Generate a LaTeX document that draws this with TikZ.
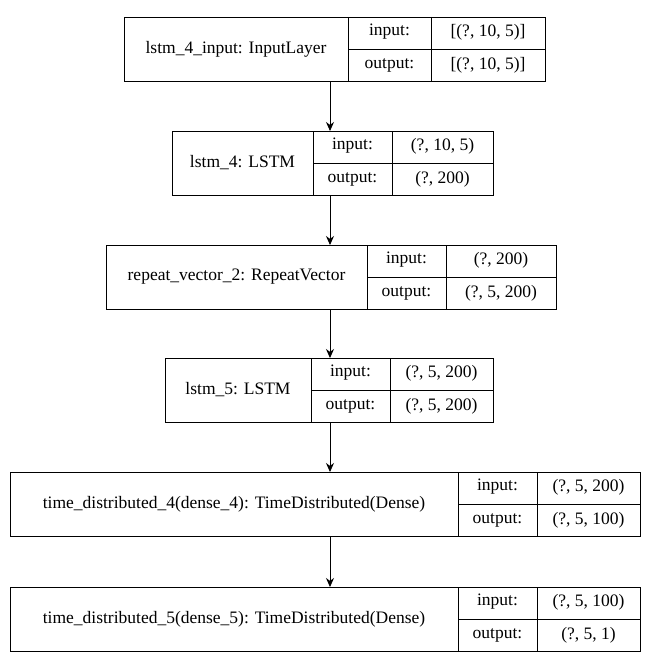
\documentclass[tikz,border=0pt]{standalone}
\usepackage{fontspec}
\setmainfont{Liberation Serif}
\usetikzlibrary{arrows.meta}
\tikzset{
  cell/.style={inner sep=0pt, font=\fontsize{17.5}{20}\selectfont},
  flow/.style={thick,-{Stealth[length=9pt,width=8pt]}}
}
\begin{document}
\begin{tikzpicture}[x=1pt,y=-1pt]
  \useasboundingbox (0,0) rectangle (652,661);
  % \lyr{name}{top}{x0}{x1}{x2}{x3}{title}{in}{out}
  \newcommand{\lyr}[9]{
    \node[draw, thick, inner sep=0pt, minimum width={(#6-#3)*1pt}, minimum height=64pt,
          anchor=north west] (#1) at (#3,#2) {};
    \draw[thick] (#4,#2) -- (#4,#2+64);
    \draw[thick] (#5,#2) -- (#5,#2+64);
    \draw[thick] (#4,#2+32) -- (#6,#2+32);
    \node[cell] (#1t) at ({(#3+#4)/2},#2+32) {#7};
    \node[cell] (#1i) at ({(#4+#5)/2},#2+15) {input:};
    \node[cell] (#1o) at ({(#4+#5)/2},#2+48) {output:};
    \node[cell] (#1a) at ({(#5+#6)/2},#2+15) {#8};
    \node[cell] (#1b) at ({(#5+#6)/2},#2+48) {#9};
  }
  \lyr{inl}{17}{124}{348}{431}{545}{lstm\_4\_input: InputLayer}{[(?, 10, 5)]}{[(?, 10, 5)]}
  \lyr{lsa}{131}{172}{313}{392}{493}{lstm\_4: LSTM}{(?, 10, 5)}{(?, 200)}
  \lyr{rep}{245}{106}{367}{446}{556}{repeat\_vector\_2: RepeatVector}{(?, 200)}{(?, 5, 200)}
  \lyr{lsb}{358}{165}{311}{390}{493}{lstm\_5: LSTM}{(?, 5, 200)}{(?, 5, 200)}
  \lyr{tda}{472}{10}{458}{537}{640}{time\_distributed\_4(dense\_4): TimeDistributed(Dense)}{(?, 5, 200)}{(?, 5, 100)}
  \lyr{tdb}{587}{10}{458}{537}{640}{time\_distributed\_5(dense\_5): TimeDistributed(Dense)}{(?, 5, 100)}{(?, 5, 1)}

  \coordinate (ax) at (330,0);
  \draw[flow] (inl.south -| ax) -- (lsa.north -| ax);
  \draw[flow] (lsa.south -| ax) -- (rep.north -| ax);
  \draw[flow] (rep.south -| ax) -- (lsb.north -| ax);
  \draw[flow] (lsb.south -| ax) -- (tda.north -| ax);
  \draw[flow] (tda.south -| ax) -- (tdb.north -| ax);
\end{tikzpicture}
\end{document}
